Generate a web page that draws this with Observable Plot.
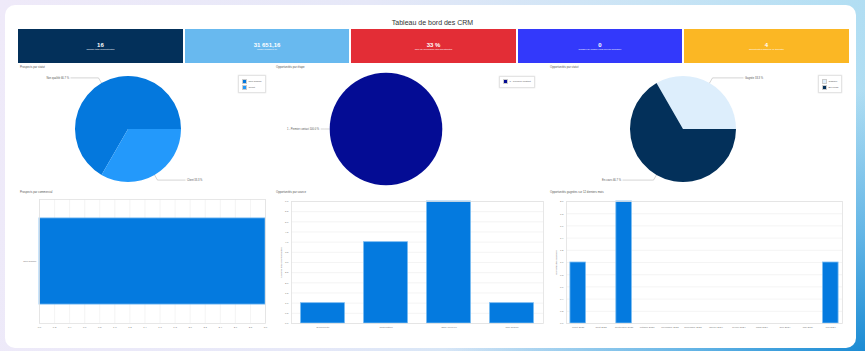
<!DOCTYPE html>
<html><head><meta charset="utf-8">
<script src="https://cdn.jsdelivr.net/npm/d3@7"></script>
<script src="https://cdn.jsdelivr.net/npm/@observablehq/plot@0.6"></script>
<style>
html,body{margin:0;padding:0;width:865px;height:351px;overflow:hidden;font-family:"Liberation Sans",Arial,sans-serif;}
body{position:relative;background:
  radial-gradient(ellipse 420px 260px at 100% 100%, rgba(20,135,210,0.95) 0%, rgba(40,150,220,0.55) 45%, rgba(40,150,220,0) 100%),
  linear-gradient(100deg,#efeaf9 0%,#e6e8f8 40%,#c9e4f5 70%,#aadcf2 100%);}
#card{position:absolute;left:5px;top:5px;width:851px;height:343px;background:#fff;border-radius:10px;}
.abs{position:absolute;}
#title{position:absolute;left:0;width:865px;top:18.5px;text-align:center;font-size:7px;color:#333;}
#kpis{position:absolute;left:18px;top:29px;width:831px;height:34px;display:flex;gap:1.6px;}
.kpi{flex:1;color:#fff;display:flex;flex-direction:column;align-items:center;justify-content:center;}
.kpi .v{font-size:6px;font-weight:bold;line-height:6px;margin-top:1px;}
.kpi .l{font-size:2.3px;line-height:3px;}
.ct{position:absolute;font-size:2.8px;color:#555;white-space:nowrap;}
.legend{position:absolute;background:#fff;border:0.6px solid #e4e4e4;box-shadow:0 0 1.5px rgba(0,0,0,0.12);padding:2px 3px;font-size:2.5px;color:#555;}
.legend .it{display:flex;align-items:center;height:6px;white-space:nowrap;}
.legend .sw{width:3px;height:3px;margin-right:1.5px;}
</style></head><body>
<div id="card"></div>
<div id="title">Tableau de bord des CRM</div>
<div id="kpis"></div>
<script>
// ---- Data ----
const kpiValues = ["16", "31 651,16", "33 %", "0", "4"];
const kpiLabels = ["Nombre total d'opportunités", "Chiffre d'affaires (€)", "Taux de conversion des opportunités", "Nombre de rendez-vous prévus (semaine)", "Opportunités gagnées ce trimestre"];

const chartTitles = ["Prospects par statut", "Opportunités par étape", "Opportunités par statut", "Prospects par commercial", "Opportunités par source", "Opportunités gagnées sur 12 derniers mois"];

const pie1Labels = ["Non qualifié", "Client"];
const pie1Values = [2, 1];
const pie2Labels = ["1 - Premier contact"];
const pie2Values = [1];
const pie3Labels = ["Gagnée", "En cours"];
const pie3Values = [1, 2];

const bar1Categories = ["Non qualifié"];
const bar1Values = [3];
const bar1Ticks = [0, 0.2, 0.4, 0.6, 0.8, 1, 1.2, 1.4, 1.6, 1.8, 2, 2.2, 2.4, 2.6, 2.8, 3];

const bar2Categories = ["Découverte", "Négociation", "Offre envoyée", "Non qualifié"];
const bar2Values = [1, 4, 6, 1];
const bar2Ticks = [0, 0.5, 1, 1.5, 2, 2.5, 3, 3.5, 4, 4.5, 5, 5.5, 6];
const bar2YLabel = "Nombre total d'opportunités";

const bar3Months = ["juillet 2023", "août 2023", "septembre 2023", "octobre 2023", "novembre 2023", "décembre 2023", "janvier 2024", "février 2024", "mars 2024", "avril 2024", "mai 2024", "juin 2024"];
const bar3Values = [1, 0, 2, 0, 0, 0, 0, 0, 0, 0, 0, 1];
const bar3Ticks = [0, 0.2, 0.4, 0.6, 0.8, 1, 1.2, 1.4, 1.6, 1.8, 2];
const bar3YLabel = "Opportunités gagnées";

// ---- Styles ----
const kpiColors = ["#03305a", "#68b9ef", "#e32d36", "#3339fb", "#fbb724"];
const pie1Colors = ["#0478dd", "#2399fb"];
const pie2Colors = ["#040c94"];
const pie3Colors = ["#ddeefc", "#03305a"];
const barFill = "#047adf", barStroke = "#7cbdf2";

// KPIs
const kp = document.getElementById("kpis");
kpiValues.forEach((v, i) => {
  const d = document.createElement("div");
  d.className = "kpi"; d.style.background = kpiColors[i];
  d.innerHTML = `<div class="v">${v}</div><div class="l">${kpiLabels[i]}</div>`;
  kp.appendChild(d);
});

function place(el, left, top) {
  el.classList.add("abs"); el.style.left = left + "px"; el.style.top = top + "px";
  document.body.appendChild(el); return el;
}
function title(text, left, top) {
  const d = document.createElement("div"); d.className = "ct"; d.textContent = text;
  d.style.left = left + "px"; d.style.top = top + "px"; document.body.appendChild(d);
}
function legend(labels, colors, left, top) {
  const color = Plot.scale({color: {type: "ordinal", domain: labels, range: colors}});
  const d = document.createElement("div"); d.className = "legend";
  d.style.left = left + "px"; d.style.top = top + "px";
  labels.forEach(l => {
    d.innerHTML += `<div class="it"><div class="sw" style="background:${color.apply(l)};border:0.3px solid #ccc"></div>${l}</div>`;
  });
  document.body.appendChild(d);
}

function pieMark({labels, values, colors, cx, cy, r, start, len1, len2}) {
  const color = Plot.scale({color: {type: "ordinal", domain: labels, range: colors}});
  return () => {
    const g = d3.create("svg:g");
    const rad = Math.PI / 180;
    const arcs = d3.pie().sort(null).startAngle(start * rad).endAngle((start + 360) * rad)(values);
    const arc = d3.arc().innerRadius(0).outerRadius(r);
    const total = d3.sum(values);
    g.selectAll("path.s").data(arcs).join("path")
      .attr("transform", `translate(${cx},${cy})`)
      .attr("d", arc).attr("fill", (d, i) => color.apply(labels[i]));
    arcs.forEach((a, i) => {
      const m = (a.startAngle + a.endAngle) / 2;
      const sx = Math.sin(m), sy = -Math.cos(m);
      const p0 = [cx + r * sx, cy + r * sy], p1 = [cx + (r + len1) * sx, cy + (r + len1) * sy];
      const dir = sx >= 0 ? 1 : -1;
      const p2 = [p1[0] + dir * len2, p1[1]];
      g.append("path").attr("d", `M${p0}L${p1}L${p2}`).attr("fill", "none").attr("stroke", "#aaa").attr("stroke-width", 0.5);
      g.append("text").attr("x", p2[0] + dir * 1.5).attr("y", p2[1]).attr("dy", "0.35em")
        .attr("text-anchor", dir > 0 ? "start" : "end").attr("font-size", 2.6).attr("fill", "#555")
        .text(`${labels[i]} ${(values[i] / total * 100).toFixed(1)} %`);
    });
    return g.node();
  };
}

const font = {fontFamily: "'Liberation Sans', Arial, sans-serif", background: "transparent", overflow: "visible"};

// Pies
place(Plot.plot({width: 255, height: 122, margin: 0, style: font,
  marks: [pieMark({labels: pie1Labels, values: pie1Values, colors: pie1Colors, cx: 113, cy: 65, r: 53, start: 210, len1: 6, len2: 28})]}), 15, 64);
place(Plot.plot({width: 280, height: 122, margin: 0, style: font,
  marks: [pieMark({labels: pie2Labels, values: pie2Values, colors: pie2Colors, cx: 116, cy: 65, r: 56.3, start: 90, len1: 5, len2: 4})]}), 270, 64);
place(Plot.plot({width: 300, height: 122, margin: 0, style: font,
  marks: [pieMark({labels: pie3Labels, values: pie3Values, colors: pie3Colors, cx: 138, cy: 65, r: 53, start: 330, len1: 6, len2: 31})]}), 545, 64);

title(chartTitles[0], 20, 64.5); title(chartTitles[1], 276, 64.5); title(chartTitles[2], 550, 64.5);
legend(pie1Labels, pie1Colors, 238, 75);
legend(pie2Labels, pie2Colors, 499, 75.5);
legend(pie3Labels, pie3Colors, 818, 75);

title(chartTitles[3], 20, 189.5); title(chartTitles[4], 276, 189.5); title(chartTitles[5], 550, 189.5);

const axisStyle = {fontSize: "2.5px", color: "#777", ...font};

// Horizontal bar
const data1 = bar1Categories.map((c, i) => ({c, v: bar1Values[i]}));
place(Plot.plot({
  width: 255, height: 140, marginLeft: 24, marginRight: 5, marginTop: 4, marginBottom: 12,
  style: axisStyle,
  x: {domain: [0, 3], ticks: bar1Ticks, tickSize: 0, tickPadding: 3, label: null},
  y: {domain: bar1Categories, padding: 0.18, round: false, tickSize: 0, tickPadding: 3, label: null},
  marks: [
    Plot.gridX(bar1Ticks, {stroke: "#ececec", strokeOpacity: 1, strokeWidth: 0.6}),
    Plot.barX(data1, {x: "v", y: "c", fill: barFill, stroke: barStroke, strokeWidth: 0.8}),
    Plot.frame({stroke: "#e2e2e2", strokeWidth: 0.8})
  ]
}), 15, 195);

// Vertical bar 2
const data2 = bar2Categories.map((c, i) => ({c, v: bar2Values[i]}));
place(Plot.plot({
  width: 280, height: 140, marginLeft: 21, marginRight: 7, marginTop: 6, marginBottom: 12,
  style: axisStyle,
  x: {domain: bar2Categories, paddingInner: 0.3, paddingOuter: 0.15, round: false, tickSize: 0, tickPadding: 3, label: null},
  y: {domain: [0, 6], ticks: bar2Ticks, tickSize: 0, tickPadding: 3, label: bar2YLabel, labelAnchor: "center", labelOffset: 11, labelArrow: "none"},
  marks: [
    Plot.gridY(bar2Ticks, {stroke: "#ececec", strokeOpacity: 1, strokeWidth: 0.6}),
    Plot.barY(data2, {x: "c", y: "v", fill: barFill, stroke: barStroke, strokeWidth: 0.8}),
    Plot.frame({stroke: "#e2e2e2", strokeWidth: 0.8})
  ]
}), 270, 195);

// Vertical bar 3
const data3 = bar3Months.map((c, i) => ({c, v: bar3Values[i]}));
place(Plot.plot({
  width: 305, height: 140, marginLeft: 21, marginRight: 8, marginTop: 6, marginBottom: 12,
  style: axisStyle,
  x: {domain: bar3Months, paddingInner: 0.32, paddingOuter: 0.17, round: false, tickSize: 0, tickPadding: 3, label: null},
  y: {domain: [0, 2], ticks: bar3Ticks, tickSize: 0, tickPadding: 3, label: bar3YLabel, labelAnchor: "center", labelOffset: 11, labelArrow: "none"},
  marks: [
    Plot.gridY(bar3Ticks, {stroke: "#ececec", strokeOpacity: 1, strokeWidth: 0.6}),
    Plot.barY(data3.filter(d => d.v > 0), {x: "c", y: "v", fill: barFill, stroke: barStroke, strokeWidth: 0.8}),
    Plot.frame({stroke: "#e2e2e2", strokeWidth: 0.8})
  ]
}), 545, 195);
</script>
</body></html>
